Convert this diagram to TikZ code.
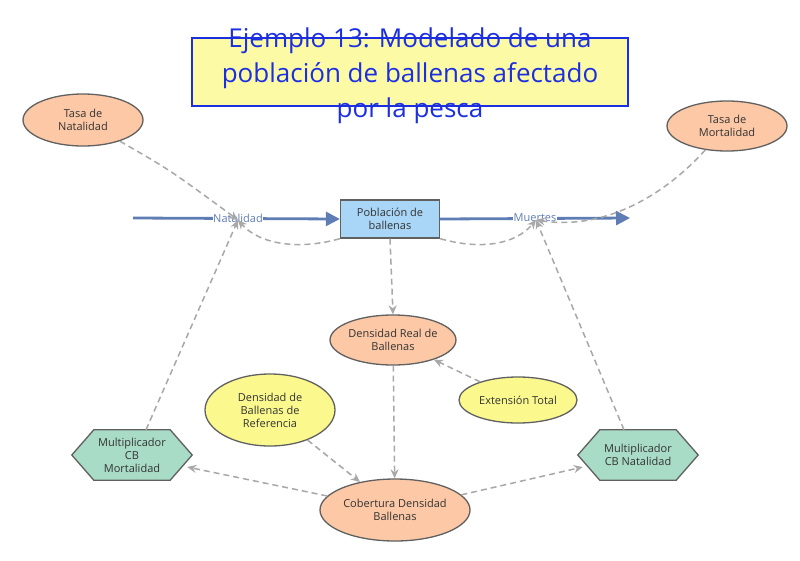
\documentclass[tikz,border=0pt]{standalone}
\usepackage{fontspec}
\setmainfont{Open Sans}
\usetikzlibrary{shapes.geometric,arrows.meta,calc}
\definecolor{peach}{HTML}{FCC8A6}
\definecolor{lyel}{HTML}{FBF98E}
\definecolor{lblue}{HTML}{A9D5F7}
\definecolor{lgreen}{HTML}{A9DCC6}
\definecolor{flow}{HTML}{5F7DB5}
\definecolor{ttl}{HTML}{1B2FE0}
\definecolor{bord}{HTML}{606060}
\definecolor{dash}{HTML}{A8A8A8}
\tikzset{
 x=1pt,y=-1pt,
 txt/.style={font=\fontsize{11}{13}\selectfont,align=center,text=black!80},
 ell/.style={ellipse,draw=bord,line width=1.3pt,txt,inner sep=0pt},
 hexn/.style={txt,minimum width=120,minimum height=50,inner sep=0pt},
 hexd/.style={draw=bord,line width=1.3pt,fill=lgreen},
 dl/.style={draw=dash,line width=1.5pt,dash pattern=on 6pt off 4pt,-{Stealth[length=9pt,width=8pt]}},
 fl/.style={draw=flow,line width=2.8pt},
 vlab/.style={font=\fontsize{11}{13}\selectfont,text=flow,fill=white,inner sep=0.5pt}
}
\begin{document}
\begin{tikzpicture}
\useasboundingbox (0,0) rectangle (800,560);
\fill[white] (0,0) rectangle (800,560);
% title
\node[draw=ttl,line width=1.3pt,fill=lyel!80,minimum width=436,minimum height=68] (tb) at (410,72) {};
\node[font=\fontsize{26}{35}\selectfont,text=ttl,align=center] (tt) at (410,76) {Ejemplo 13: Modelado de una\\población de ballenas afectado\\por la pesca};
% nodes
\node[ell,fill=peach,minimum width=120,minimum height=52] (tn) at (83,120) {Tasa de\\Natalidad};
\node[ell,fill=peach,minimum width=120,minimum height=50] (tm) at (727,126) {Tasa de\\Mortalidad};
\node[draw=bord,line width=1.3pt,fill=lblue,txt,minimum width=99,minimum height=38,inner sep=0pt] (pob) at (390,219) {Población de\\ballenas};
\node[ell,fill=peach,minimum width=118,minimum height=50] (dr) at (393,340) {Densidad Real de\\Ballenas};
\node[ell,fill=lyel,minimum width=118,minimum height=46] (ext) at (518,400) {Extensión Total};
\node[ell,fill=lyel,minimum width=130,minimum height=72] (ref) at (270,410) {Densidad de\\Ballenas de\\Referencia};
\node[ell,fill=peach,minimum width=150,minimum height=62] (cob) at (395,510) {Cobertura Densidad\\Ballenas};
\node[hexn] (mm) at (132,455) {};
\node[hexn] (mn) at (638,455) {};
\foreach \h in {mm,mn}{
 \draw[hexd] (\h.west) -- ($(\h.north west)+(22,0)$) -- ($(\h.north east)+(-22,0)$) -- (\h.east) -- ($(\h.south east)+(-22,0)$) -- ($(\h.south west)+(22,0)$) -- cycle;}
\node[txt] at (mm) {Multiplicador\\CB\\Mortalidad};
\node[txt] at (mn) {Multiplicador\\CB Natalidad};
% flows
\coordinate (src) at (133,218);
\coordinate (snk) at (630,218);
\coordinate (vn) at (238,220);
\coordinate (vm) at (536,220);
\draw[fl,-{Triangle[length=14pt,width=14pt]}] (src) -- (pob.west);
\draw[fl,-{Triangle[length=14pt,width=14pt]}] (pob.east) -- (snk);
\node[vlab] (nat) at (238,218) {Natalidad};
\node[vlab] (mue) at (535,218) {Muertes};
% influences
\draw[dl] (tn) .. controls (170,170) .. (vn);
\draw[dl] (pob.south west) .. controls (300,250) and (260,245) .. (vn);
\draw[dl] (tm) .. controls (660,200) and (600,230) .. (vm);
\draw[dl] (pob.south east) .. controls (480,250) and (515,245) .. (vm);
\draw[dl] (pob.south) -- (dr.north);
\draw[dl] (ext) -- (dr);
\draw[dl] (dr) -- (cob);
\draw[dl] (ref) -- (cob);
\draw[dl] (cob) -- ($(mm.east)+(-5,12)$);
\draw[dl] (cob) -- ($(mn.west)+(5,12)$);
\draw[dl] ($(mm.north)+(14,0)$) -- (vn);
\draw[dl] ($(mn.north)+(-14,0)$) -- (vm);
\end{tikzpicture}
\end{document}
